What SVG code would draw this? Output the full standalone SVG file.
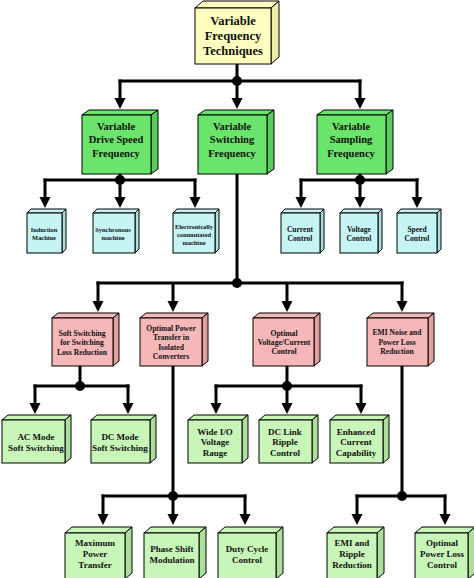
<svg xmlns="http://www.w3.org/2000/svg" width="474" height="578" viewBox="0 0 474 578">
<style>
.e{stroke:#000;stroke-width:1;stroke-linejoin:miter}
.y{fill:#FFFFC0}.ys{fill:#EDEDA8}
.g{fill:#6AE46A}.gs{fill:#58CC58}
.c{fill:#C6F4F4}.cs{fill:#ABE0E0}
.p{fill:#F5B7B7}.ps{fill:#E39E9E}
.l{fill:#C8F5B8}.ls{fill:#ADDF9C}
text{font-family:"Liberation Serif","Times New Roman",serif;font-weight:bold;text-anchor:middle;fill:#111}
.t1{font-size:12.5px}.t2{font-size:10.5px}.t3{font-size:6.4px}.t4{font-size:7.5px}.t5{font-size:7.6px}.t6{font-size:9px}
.w{fill:none;stroke:#000;stroke-width:3}
.a{fill:none;stroke:#000;stroke-width:3;marker-end:url(#ah)}
</style>
<defs>
<marker id="ah" markerUnits="userSpaceOnUse" markerWidth="12" markerHeight="12" refX="0" refY="5.5" orient="auto" overflow="visible">
<path d="M0,0 L11,5.5 L0,11 z" fill="#000"/>
</marker>
</defs>

<g id="n-top">
<polygon class="y e" points="195,8 203,1 279,1 271,8"/>
<polygon class="ys e" points="271,8 279,1 279,57 271,64"/>
<rect class="y e" x="195" y="8" width="76" height="56"/>
<text class="t1" x="233" y="25">Variable</text>
<text class="t1" x="233" y="40">Frequency</text>
<text class="t1" x="233" y="55">Techniques</text>
</g>

<g id="n-drive">
<polygon class="g e" points="82,115 89,110 158,110 151,115"/>
<polygon class="gs e" points="151,115 158,110 158,169 151,174"/>
<rect class="g e" x="82" y="115" width="69" height="59"/>
<text class="t2" x="116" y="130">Variable</text>
<text class="t2" x="116" y="143">Drive Speed</text>
<text class="t2" x="116" y="157">Frequency</text>
</g>
<g id="n-switching">
<polygon class="g e" points="198,115 205,110 274,110 267,115"/>
<polygon class="gs e" points="267,115 274,110 274,169 267,174"/>
<rect class="g e" x="198" y="115" width="69" height="59"/>
<text class="t2" x="232" y="130">Variable</text>
<text class="t2" x="232" y="143">Switching</text>
<text class="t2" x="232" y="157">Frequency</text>
</g>
<g id="n-sampling">
<polygon class="g e" points="317,115 324,110 393,110 386,115"/>
<polygon class="gs e" points="386,115 393,110 393,169 386,174"/>
<rect class="g e" x="317" y="115" width="69" height="59"/>
<text class="t2" x="351" y="130">Variable</text>
<text class="t2" x="351" y="143">Sampling</text>
<text class="t2" x="351" y="157">Frequency</text>
</g>

<g id="n-induction">
<polygon class="c e" points="27,213 31,209 66,209 62,213"/>
<polygon class="cs e" points="62,213 66,209 66,249 62,253"/>
<rect class="c e" x="27" y="213" width="35" height="40"/>
<text class="t3" x="44" y="232">Induction</text>
<text class="t3" x="44" y="240">Machine</text>
</g>
<g id="n-synchronous">
<polygon class="c e" points="93,213 97,209 139,209 135,213"/>
<polygon class="cs e" points="135,213 139,209 139,249 135,253"/>
<rect class="c e" x="93" y="213" width="42" height="40"/>
<text class="t3" x="113" y="232">Synchronous</text>
<text class="t3" x="113" y="240">machine</text>
</g>
<g id="n-electronic">
<polygon class="c e" points="173,213 177,209 219,209 215,213"/>
<polygon class="cs e" points="215,213 219,209 219,249 215,253"/>
<rect class="c e" x="173" y="213" width="42" height="40"/>
<text class="t3" x="194" y="229">Electronically</text>
<text class="t3" x="194" y="237">commutated</text>
<text class="t3" x="194" y="245">machine</text>
</g>
<g id="n-current">
<polygon class="c e" points="281,213 285,209 324,209 320,213"/>
<polygon class="cs e" points="320,213 324,209 324,249 320,253"/>
<rect class="c e" x="281" y="213" width="39" height="40"/>
<text class="t4" x="300" y="232">Current</text>
<text class="t4" x="300" y="241">Control</text>
</g>
<g id="n-voltage">
<polygon class="c e" points="340,213 344,209 382,209 378,213"/>
<polygon class="cs e" points="378,213 382,209 382,249 378,253"/>
<rect class="c e" x="340" y="213" width="38" height="40"/>
<text class="t4" x="359" y="232">Voltage</text>
<text class="t4" x="359" y="241">Control</text>
</g>
<g id="n-speed">
<polygon class="c e" points="397,213 401,209 441,209 437,213"/>
<polygon class="cs e" points="437,213 441,209 441,249 437,253"/>
<rect class="c e" x="397" y="213" width="40" height="40"/>
<text class="t4" x="417" y="232">Speed</text>
<text class="t4" x="417" y="241">Control</text>
</g>

<g id="n-soft">
<polygon class="p e" points="52,318 58,313 119,313 113,318"/>
<polygon class="ps e" points="113,318 119,313 119,361 113,366"/>
<rect class="p e" x="52" y="318" width="61" height="48"/>
<text class="t5" x="82" y="336">Soft Switching</text>
<text class="t5" x="82" y="345">for Switching</text>
<text class="t5" x="82" y="355">Loss Reduction</text>
</g>
<g id="n-optpower">
<polygon class="p e" points="140,318 146,313 208,313 202,318"/>
<polygon class="ps e" points="202,318 208,313 208,361 202,366"/>
<rect class="p e" x="140" y="318" width="62" height="48"/>
<text class="t5" x="171" y="331">Optimal Power</text>
<text class="t5" x="171" y="340">Transfer in</text>
<text class="t5" x="171" y="350">Isolated</text>
<text class="t5" x="171" y="359">Converters</text>
</g>
<g id="n-optvolt">
<polygon class="p e" points="253,318 259,313 320,313 314,318"/>
<polygon class="ps e" points="314,318 320,313 320,361 314,366"/>
<rect class="p e" x="253" y="318" width="61" height="48"/>
<text class="t5" x="284" y="336">Optimal</text>
<text class="t5" x="284" y="345">Voltage/Current</text>
<text class="t5" x="284" y="354">Control</text>
</g>
<g id="n-emi">
<polygon class="p e" points="367,318 373,313 434,313 428,318"/>
<polygon class="ps e" points="428,318 434,313 434,361 428,366"/>
<rect class="p e" x="367" y="318" width="61" height="48"/>
<text class="t5" x="397" y="335">EMI Noise and</text>
<text class="t5" x="397" y="345">Power Loss</text>
<text class="t5" x="397" y="354">Reduction</text>
</g>

<g id="n-ac">
<polygon class="l e" points="2,420 8,415 71,415 65,420"/>
<polygon class="ls e" points="65,420 71,415 71,458 65,463"/>
<rect class="l e" x="2" y="420" width="63" height="43"/>
<text class="t6" x="36" y="440">AC Mode</text>
<text class="t6" x="36" y="451">Soft Switching</text>
</g>
<g id="n-dc">
<polygon class="l e" points="91,420 97,415 156,415 150,420"/>
<polygon class="ls e" points="150,420 156,415 156,458 150,463"/>
<rect class="l e" x="91" y="420" width="59" height="43"/>
<text class="t6" x="120" y="440">DC Mode</text>
<text class="t6" x="120" y="451">Soft Switching</text>
</g>
<g id="n-wide">
<polygon class="l e" points="188,420 194,415 248,415 242,420"/>
<polygon class="ls e" points="242,420 248,415 248,458 242,463"/>
<rect class="l e" x="188" y="420" width="54" height="43"/>
<text class="t6" x="215" y="435">Wide I/O</text>
<text class="t6" x="215" y="445">Voltage</text>
<text class="t6" x="215" y="456">Rauge</text>
</g>
<g id="n-dclink">
<polygon class="l e" points="259,420 265,415 318,415 312,420"/>
<polygon class="ls e" points="312,420 318,415 318,458 312,463"/>
<rect class="l e" x="259" y="420" width="53" height="43"/>
<text class="t6" x="285" y="435">DC Link</text>
<text class="t6" x="285" y="445">Ripple</text>
<text class="t6" x="285" y="456">Control</text>
</g>
<g id="n-enhanced">
<polygon class="l e" points="330,420 336,415 389,415 383,420"/>
<polygon class="ls e" points="383,420 389,415 389,458 383,463"/>
<rect class="l e" x="330" y="420" width="53" height="43"/>
<text class="t6" x="356" y="435">Enhanced</text>
<text class="t6" x="356" y="445">Current</text>
<text class="t6" x="356" y="456">Capability</text>
</g>

<g id="n-maxpower">
<polygon class="l e" points="65,533 72,527 132,527 125,533"/>
<polygon class="ls e" points="125,533 132,527 132,573 125,579"/>
<rect class="l e" x="65" y="533" width="60" height="46"/>
<text class="t6" x="95" y="546">Maximum</text>
<text class="t6" x="95" y="557">Power</text>
<text class="t6" x="95" y="568">Transfer</text>
</g>
<g id="n-phase">
<polygon class="l e" points="144,533 151,527 206,527 199,533"/>
<polygon class="ls e" points="199,533 206,527 206,573 199,579"/>
<rect class="l e" x="144" y="533" width="55" height="46"/>
<text class="t6" x="172" y="552">Phase Shift</text>
<text class="t6" x="172" y="563">Modulation</text>
</g>
<g id="n-duty">
<polygon class="l e" points="218,533 225,527 283,527 276,533"/>
<polygon class="ls e" points="276,533 283,527 283,573 276,579"/>
<rect class="l e" x="218" y="533" width="58" height="46"/>
<text class="t6" x="247" y="552">Duty Cycle</text>
<text class="t6" x="247" y="563">Control</text>
</g>
<g id="n-emiripple">
<polygon class="l e" points="327,533 334,527 384,527 377,533"/>
<polygon class="ls e" points="377,533 384,527 384,573 377,579"/>
<rect class="l e" x="327" y="533" width="50" height="46"/>
<text class="t6" x="352" y="546">EMI and</text>
<text class="t6" x="352" y="557">Ripple</text>
<text class="t6" x="352" y="568">Reduction</text>
</g>
<g id="n-optloss">
<polygon class="l e" points="415,533 422,527 475,527 468,533"/>
<polygon class="ls e" points="468,533 475,527 475,573 468,579"/>
<rect class="l e" x="415" y="533" width="53" height="46"/>
<text class="t6" x="442" y="546">Optimal</text>
<text class="t6" x="442" y="557">Power Loss</text>
<text class="t6" x="442" y="568">Control</text>
</g>

<g id="connectors">
<path class="w" d="M237,64 V81 M118.5,81 H361.5"/>
<path class="a" d="M120,79.5 V98"/>
<path class="a" d="M237,81 V98"/>
<path class="a" d="M360,79.5 V98"/>
<circle cx="237" cy="81" r="5"/>

<path class="w" d="M120,174 V180 M43.5,180 H196.5"/>
<path class="a" d="M45,178.5 V197"/>
<path class="a" d="M120,180 V197"/>
<path class="a" d="M195,178.5 V197"/>
<circle cx="120" cy="180" r="5"/>

<path class="w" d="M360,174 V180 M299.5,180 H418.5"/>
<path class="a" d="M301,178.5 V197"/>
<path class="a" d="M360,180 V197"/>
<path class="a" d="M417,178.5 V197"/>
<circle cx="360" cy="180" r="5"/>

<path class="w" d="M237,174 V283 M96.5,283 H403.5"/>
<path class="a" d="M98,281.5 V301"/>
<path class="a" d="M173,283 V301"/>
<path class="a" d="M287,283 V301"/>
<path class="a" d="M402,281.5 V301"/>
<circle cx="237" cy="283" r="5"/>

<path class="w" d="M80,366 V386 M33.5,386 H129.5"/>
<path class="a" d="M35,384.5 V403"/>
<path class="a" d="M128,384.5 V403"/>
<circle cx="80" cy="386" r="5"/>

<path class="w" d="M287,366 V386 M214.5,386 H362.5"/>
<path class="a" d="M216,384.5 V403"/>
<path class="a" d="M287,386 V403"/>
<path class="a" d="M361,384.5 V403"/>
<circle cx="287" cy="386" r="5"/>

<path class="w" d="M173,366 V496 M101.5,496 H246.5"/>
<path class="a" d="M103,494.5 V514"/>
<path class="a" d="M173,496 V514"/>
<path class="a" d="M245,494.5 V514"/>
<circle cx="173" cy="496" r="5"/>

<path class="w" d="M402,366 V496 M355.5,496 H446.5"/>
<path class="a" d="M357,494.5 V514"/>
<path class="a" d="M445,494.5 V514"/>
<circle cx="402" cy="496" r="5"/>
</g>
</svg>
